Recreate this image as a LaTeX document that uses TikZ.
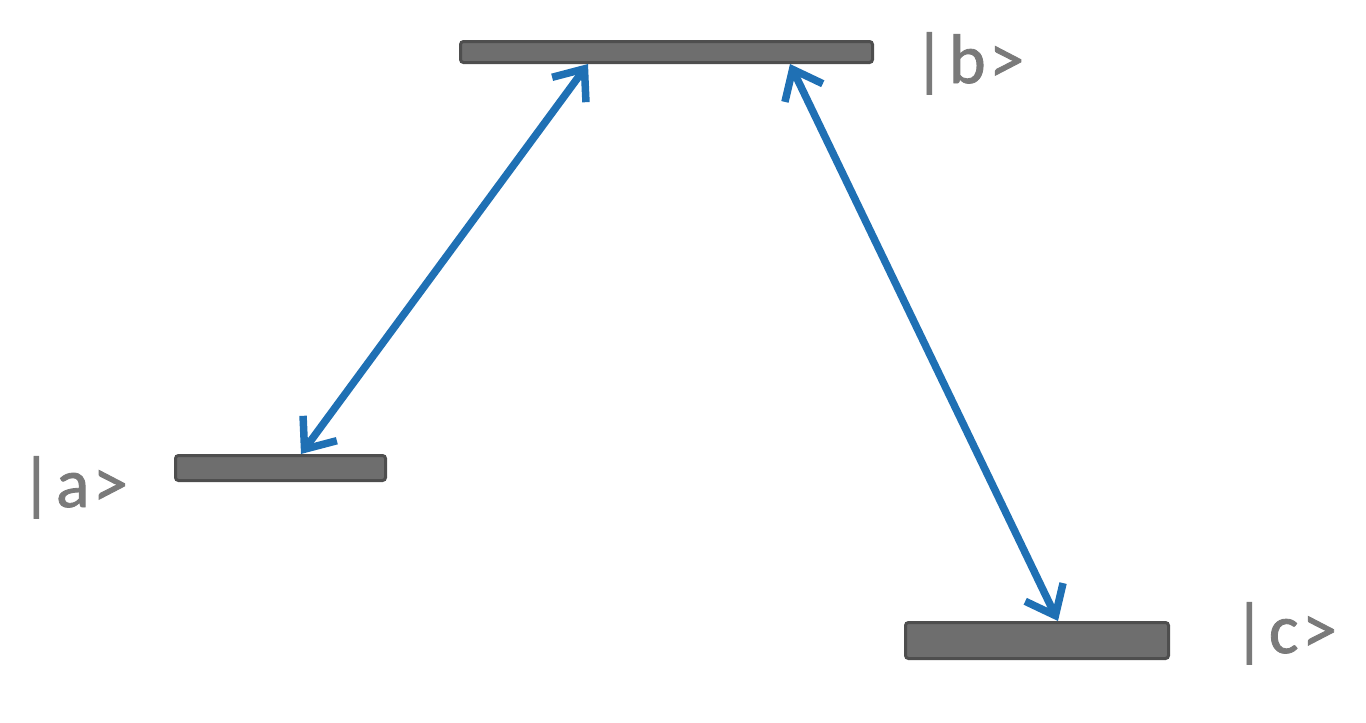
\documentclass[tikz,border=0pt]{standalone}
\usepackage{fontspec}
\setmainfont{Carlito}
\usetikzlibrary{arrows.meta}
\definecolor{arrowblue}{HTML}{1F70B4}
\definecolor{bardark}{HTML}{4E4E4E}
\definecolor{barfill}{HTML}{6E6E6E}
\definecolor{labelgray}{HTML}{7A7A7A}
\tikzset{
  level/.style={draw=bardark, fill=barfill, line width=3pt, rounded corners=3pt, inner sep=0pt, anchor=north west},
  statelabel/.style={text=labelgray, font=\fontsize{70}{72}\selectfont\addfontfeature{LetterSpace=5,FakeBold=1.2}, inner sep=0pt, anchor=base west},
  trans/.style={draw=arrowblue, line width=7.5pt, {Straight Barb[length=26pt,width=42pt]}-{Straight Barb[length=26pt,width=42pt]}}
}
\begin{document}
\begin{tikzpicture}[x=1pt,y=-1pt]
\useasboundingbox (0,0) rectangle (1366,723);
\node[level, minimum width=412pt, minimum height=21pt] (b) at (459,40) {};
\node[level, minimum width=210pt, minimum height=25pt] (a) at (174,454) {};
\node[level, minimum width=263pt, minimum height=36pt] (c) at (904,621) {};
\node[statelabel] (lb) at (913,83) {|b>};
\node[statelabel] (la) at (20,507) {|a>};
\node[statelabel] (lc) at (1233,653) {|c>};
\draw[trans] ([xshift=129pt]b.south west) -- ([xshift=127pt]a.north west);
\draw[trans] ([xshift=331pt]b.south west) -- ([xshift=154pt]c.north west);
\end{tikzpicture}
\end{document}
